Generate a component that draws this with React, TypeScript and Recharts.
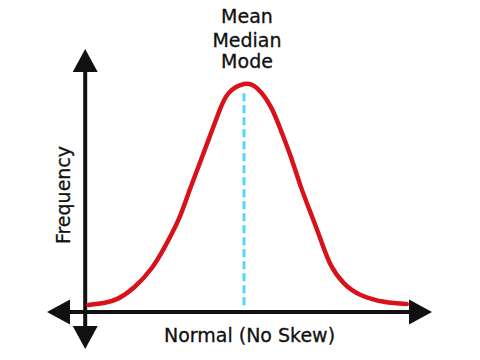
import React from "react";
import { ComposedChart, Line, XAxis, YAxis, ReferenceLine, ReferenceDot } from "recharts";

// Curve: x in standard deviations from the centre, y as frequency (peak = 100)
const xs = [-3.89, -3.48, -3.14, -2.73, -2.31, -1.98, -1.64, -1.39, -1.14, -0.89, -0.64, -0.39, 0, 0.33, 0.67, 0.92, 1.17, 1.42, 1.67, 1.92, 2.17, 2.5, 2.92, 3.5, 4.07];
const freq = [3.1, 4.1, 6.0, 11.1, 19.2, 28.6, 40.4, 52.0, 63.7, 75.4, 87.1, 95.9, 100, 98.1, 90.0, 79.8, 68.1, 55.0, 43.3, 31.6, 20.6, 12.6, 7.5, 4.5, 3.5];
const centreLabels = ["Mean", "Median", "Mode"];
const xTitle = "Normal (No Skew)";
const yTitle = "Frequency";

const data = xs.map((x, i) => ({ x, y: freq[i] }));

const X_MIN = -4.925;
const X_MAX = 4.7;
const Y_MIN = -16.2;
const Y_MAX = 115.35;
const Y_AXIS_X = -3.97;
const PEAK = 100;
const DASH_BOTTOM = 3;
const DASH_TOP = 97;

const FONT = "DejaVu Sans";
const INK = "#111";

const arrow = (dir: "up" | "down" | "left" | "right") => (props: any) => {
  const { cx, cy } = props;
  const L = 23;
  const H = 12.5;
  let pts = "";
  if (dir === "up") pts = `${cx},${cy} ${cx - H},${cy + L} ${cx + H},${cy + L}`;
  if (dir === "down") pts = `${cx},${cy} ${cx - H},${cy - L} ${cx + H},${cy - L}`;
  if (dir === "left") pts = `${cx},${cy} ${cx + L},${cy - H} ${cx + L},${cy + H}`;
  if (dir === "right") pts = `${cx},${cy} ${cx - L},${cy - H} ${cx - L},${cy + H}`;
  return <polygon points={pts} fill={INK} />;
};

const centreText = (props: any) => {
  const { cx, cy } = props;
  const offsets = [-61, -37, -16];
  return (
    <g>
      {centreLabels.map((t, i) => (
        <text key={t} x={cx + 3} y={cy + offsets[i]} textAnchor="middle" fontFamily={FONT} fontSize={19} fill={INK} stroke={INK} strokeWidth={0.3}>
          {t}
        </text>
      ))}
    </g>
  );
};

const yTitleContent = (props: any) => {
  const vb = props.viewBox || {};
  const x = vb.x - 15;
  const y = vb.y + vb.height / 2 - 4;
  return (
    <text x={x} y={y} transform={`rotate(-90 ${x} ${y})`} textAnchor="middle" fontFamily={FONT} fontSize={19} fill={INK} stroke={INK} strokeWidth={0.3}>
      {yTitle}
    </text>
  );
};

const xTitleContent = (props: any) => {
  const vb = props.viewBox || {};
  const x = vb.x + vb.width / 2 + 10;
  const y = vb.y + 30;
  return (
    <text x={x} y={y} textAnchor="middle" fontFamily={FONT} fontSize={19} fill={INK} stroke={INK} strokeWidth={0.3}>
      {xTitle}
    </text>
  );
};

export default function App() {
  return (
    <div style={{ position: "absolute", left: 0, top: 0, background: "#fff" }}>
      <ComposedChart width={480} height={360} data={data} margin={{ top: 49, right: 48, bottom: 11, left: 47 }}>
        <XAxis type="number" dataKey="x" domain={[X_MIN, X_MAX]} hide allowDataOverflow />
        <YAxis type="number" domain={[Y_MIN, Y_MAX]} hide allowDataOverflow />
        <ReferenceLine
          segment={[{ x: X_MIN + 0.3, y: 0 }, { x: X_MAX - 0.3, y: 0 }]}
          stroke={INK}
          strokeWidth={4}
          ifOverflow="visible"
          label={{ content: xTitleContent }}
        />
        <ReferenceLine
          segment={[{ x: Y_AXIS_X, y: Y_MIN + 5 }, { x: Y_AXIS_X, y: Y_MAX - 5 }]}
          stroke={INK}
          strokeWidth={4}
          ifOverflow="visible"
          label={{ content: yTitleContent }}
        />
        <ReferenceDot x={Y_AXIS_X} y={Y_MAX} ifOverflow="visible" shape={arrow("up")} />
        <ReferenceDot x={Y_AXIS_X} y={Y_MIN} ifOverflow="visible" shape={arrow("down")} />
        <ReferenceDot x={X_MIN} y={0} ifOverflow="visible" shape={arrow("left")} />
        <ReferenceDot x={X_MAX} y={0} ifOverflow="visible" shape={arrow("right")} />
        <ReferenceLine
          segment={[{ x: 0, y: DASH_BOTTOM }, { x: 0, y: DASH_TOP }]}
          stroke="#55d8f2"
          strokeWidth={3}
          strokeDasharray="8 4"
          ifOverflow="visible"
        />
        <Line
          type="natural"
          dataKey="y"
          stroke="#d7121b"
          strokeWidth={4.5}
          strokeLinecap="round"
          dot={false}
          activeDot={false}
          isAnimationActive={false}
        />
        <ReferenceDot x={0} y={PEAK} ifOverflow="visible" shape={centreText} />
      </ComposedChart>
    </div>
  );
}
